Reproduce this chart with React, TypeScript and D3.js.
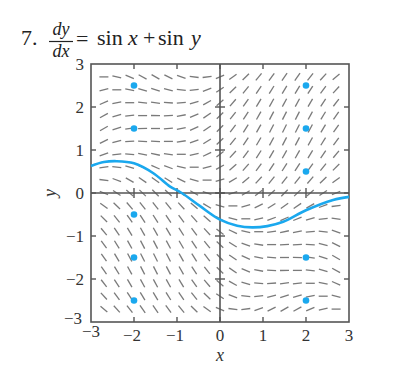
import React from "react";
import * as d3 from "d3";

// ---- data ----
const xTicks = [-3, -2, -1, 0, 1, 2, 3];
const yTicks = [-3, -2, -1, 0, 1, 2, 3];
const xTickLabels = ["−3", "−2", "−1", "0", "1", "2", "3"];
const yTickLabels = ["−3", "−2", "−1", "0", "1", "2", "3"];
const gridXs = [-2.7, -2.4, -2.1, -1.8, -1.5, -1.2, -0.9, -0.6, -0.3, 0, 0.3, 0.6, 0.9, 1.2, 1.5, 1.8, 2.1, 2.4, 2.7];
const gridYs = [-2.7, -2.4, -2.1, -1.8, -1.5, -1.2, -0.9, -0.6, -0.3, 0, 0.3, 0.6, 0.9, 1.2, 1.5, 1.8, 2.1, 2.4, 2.7];
const slope = (x: number, y: number) => Math.sin(x) + Math.sin(y); // dy/dx = sin x + sin y
const curveX = [-3, -2.7, -2.4, -2.0, -1.55, -1.16, -0.89, -0.47, 0, 0.4, 0.75, 1.1, 1.47, 2.0, 2.63, 3];
const curveY = [0.63, 0.72, 0.74, 0.69, 0.46, 0.15, 0, -0.3, -0.62, -0.76, -0.8, -0.77, -0.67, -0.4, -0.16, -0.09];
const dotX = [-2, -2, -2, -2, -2, 2, 2, 2, 2, 2];
const dotY = [2.5, 1.5, -0.5, -1.5, -2.5, 2.5, 1.5, 0.5, -1.5, -2.5];

const W = 402, H = 374;
const x = d3.scaleLinear().domain([-3, 3]).range([91, 349]);
const y = d3.scaleLinear().domain([-3, 3]).range([322, 64]);

const BLUE = "#1aa8ee";
const FRAME = "#555";
const SEG = "#7a7a7a";
const SERIF = "'Liberation Serif', 'Times New Roman', serif";

export default function App() {
  const L = 9;
  const segs: { x1: number; y1: number; x2: number; y2: number }[] = [];
  gridXs.forEach((gx) =>
    gridYs.forEach((gy) => {
      const m = slope(gx, gy);
      const px = x(gx), py = y(gy);
      const dx = 1, dy = -m;
      const n = Math.sqrt(dx * dx + dy * dy);
      const ux = (dx / n) * (L / 2), uy = (dy / n) * (L / 2);
      segs.push({ x1: px - ux, y1: py - uy, x2: px + ux, y2: py + uy });
    })
  );

  const line = d3
    .line<number>()
    .x((_, i) => x(curveX[i]))
    .y((d) => y(d))
    .curve(d3.curveCatmullRom.alpha(0.5));

  const tk = 5;
  return (
    <svg width={W} height={H} style={{ position: "absolute", left: 0, top: 0, background: "#fff" }}>
      {/* title */}
      <g fontFamily={SERIF} fill="#222">
        <text x={21} y={45} fontSize={22}>7.</text>
        <text x={61} y={35} fontSize={18} fontStyle="italic" textAnchor="middle">dy</text>
        <line x1={49} x2={73} y1={41.5} y2={41.5} stroke="#222" strokeWidth={1.2} />
        <text x={61} y={57} fontSize={18} fontStyle="italic" textAnchor="middle">dx</text>
        <text x={76} y={46} fontSize={22}>=</text>
        <text x={97} y={45} fontSize={22}>sin</text>
        <text x={128} y={45} fontSize={22} fontStyle="italic">x</text>
        <text x={143} y={45} fontSize={22}>+</text>
        <text x={158} y={45} fontSize={22}>sin</text>
        <text x={191} y={45} fontSize={22} fontStyle="italic">y</text>
      </g>

      {/* slope segments */}
      <g stroke={SEG} strokeWidth={1.3} strokeLinecap="butt">
        {segs.map((s, i) => (
          <line key={i} x1={s.x1} y1={s.y1} x2={s.x2} y2={s.y2} />
        ))}
      </g>

      {/* frame and axes */}
      <rect x={x(-3)} y={y(3)} width={x(3) - x(-3)} height={y(-3) - y(3)} fill="none" stroke={FRAME} strokeWidth={1.6} />
      <line x1={x(0)} x2={x(0)} y1={y(3)} y2={y(-3)} stroke={FRAME} strokeWidth={1.6} />
      <line x1={x(-3)} x2={x(3)} y1={y(0)} y2={y(0)} stroke={FRAME} strokeWidth={1.6} />
      <g stroke={FRAME} strokeWidth={1.4}>
        {xTicks.slice(1, -1).map((t) => (
          <g key={"xt" + t}>
            <line x1={x(t)} x2={x(t)} y1={y(3)} y2={y(3) + tk} />
            <line x1={x(t)} x2={x(t)} y1={y(-3)} y2={y(-3) - tk} />
            <line x1={x(t)} x2={x(t)} y1={y(0) - tk} y2={y(0) + tk} />
          </g>
        ))}
        {yTicks.slice(1, -1).map((t) => (
          <g key={"yt" + t}>
            <line x1={x(-3)} x2={x(-3) + tk} y1={y(t)} y2={y(t)} />
            <line x1={x(3)} x2={x(3) - tk} y1={y(t)} y2={y(t)} />
            <line x1={x(0) - tk} x2={x(0) + tk} y1={y(t)} y2={y(t)} />
          </g>
        ))}
      </g>

      {/* solution curve */}
      <path d={line(curveY) || ""} fill="none" stroke={BLUE} strokeWidth={2.6} />

      {/* dots */}
      <g fill={BLUE}>
        {dotX.map((dx, i) => (
          <circle key={i} cx={x(dx)} cy={y(dotY[i])} r={3.3} />
        ))}
      </g>

      {/* tick labels */}
      <g fontFamily={SERIF} fontSize={17} fill="#333">
        {yTicks.map((t, i) => (
          <text key={"yl" + t} x={t === -3 ? 82 : 84} y={y(t) + (t === -3 ? 2 : 6)} textAnchor="end">
            {yTickLabels[i]}
          </text>
        ))}
        {xTicks.map((t, i) => (
          <text key={"xl" + t} x={x(t) + (t === -3 ? 0 : t < 0 ? -2 : 0)} y={t === -3 ? 337 : 341} textAnchor="middle">
            {xTickLabels[i]}
          </text>
        ))}
        <text x={x(0)} y={361} textAnchor="middle" fontStyle="italic" fontSize={18}>x</text>
        <text transform={`translate(56,${y(0)}) rotate(-90)`} textAnchor="middle" fontStyle="italic" fontSize={18}>y</text>
      </g>
    </svg>
  );
}
